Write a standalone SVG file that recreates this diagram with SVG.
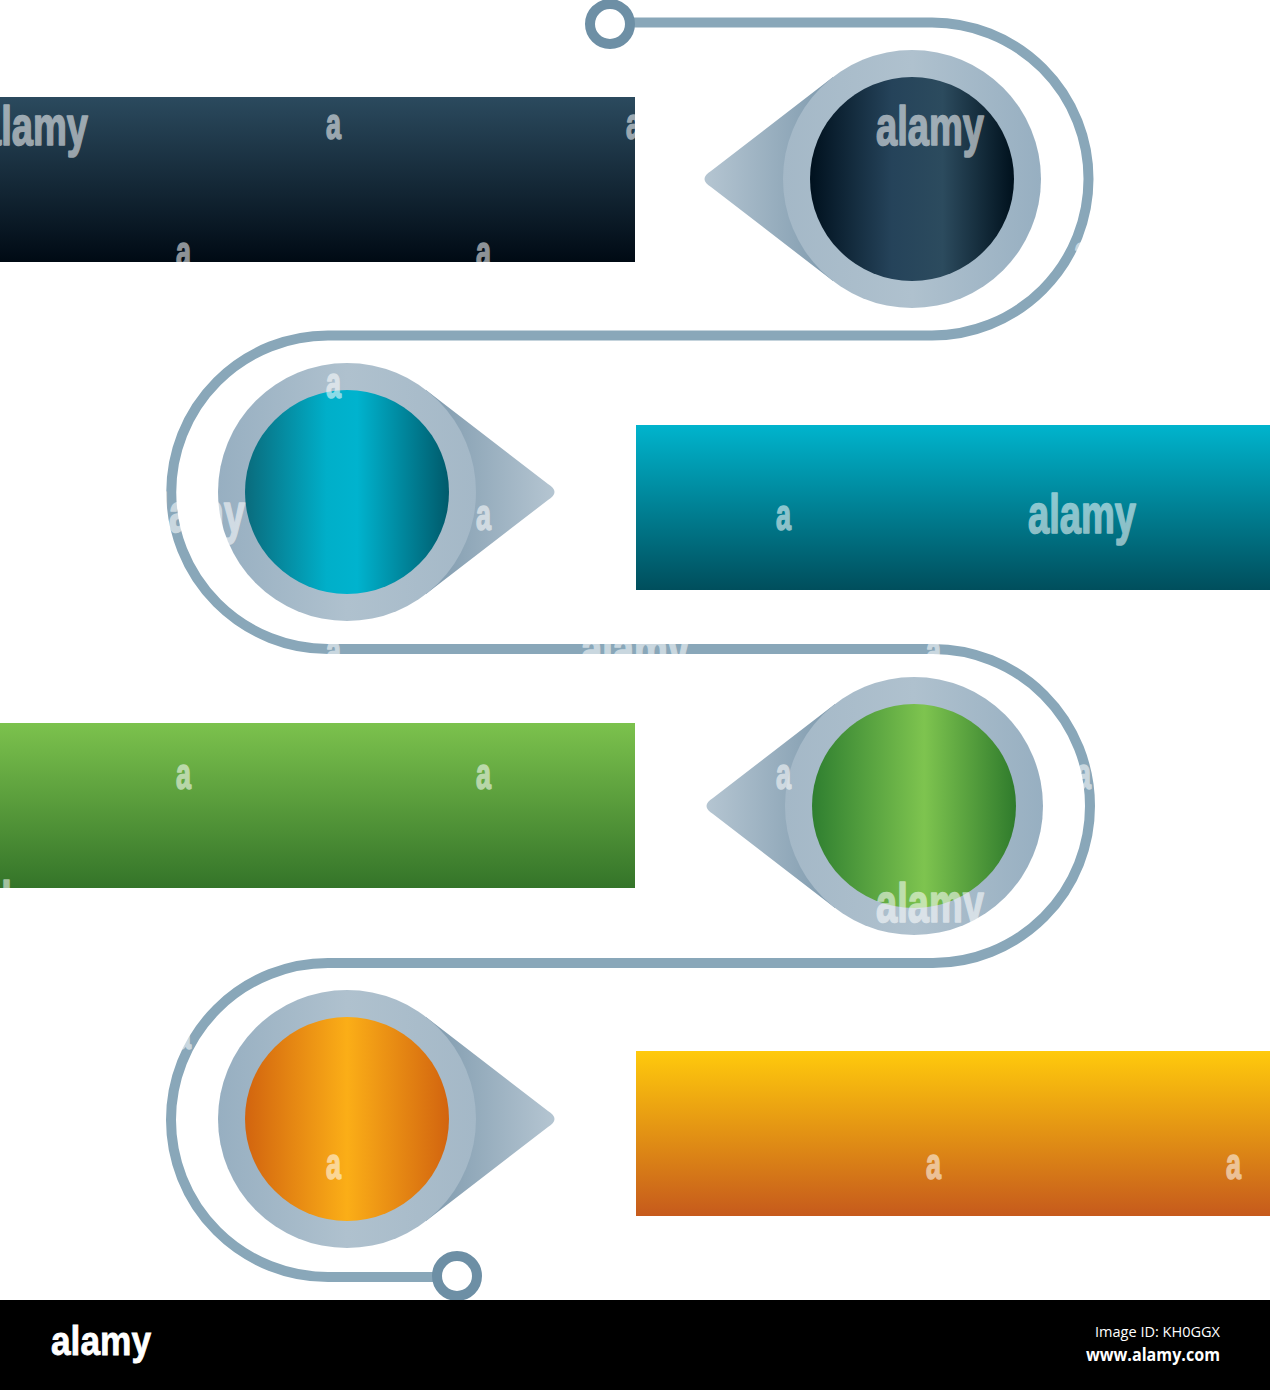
<svg xmlns="http://www.w3.org/2000/svg" width="1270" height="1390" viewBox="0 0 1270 1390">
<style>
.line{fill:none;stroke:#89a7b9;stroke-width:10}
.dot{fill:none;stroke:#6d8fa5;stroke-width:10}
.wm{fill:#fff;stroke:#fff;stroke-width:1.6;stroke-linejoin:round;font-family:"Liberation Sans Narrow","Liberation Sans",sans-serif;font-weight:bold}
.wa{font-size:44px}
.wl{font-size:56px}
.ft{fill:#fff;font-family:"Open Sans","DejaVu Sans",sans-serif}
</style>
<defs>
<linearGradient id="gDark" x1="0" y1="0" x2="0" y2="1"><stop offset="0" stop-color="#2b4a5e"/><stop offset="1" stop-color="#000a14"/></linearGradient>
<linearGradient id="gTeal" x1="0" y1="0" x2="0" y2="1"><stop offset="0" stop-color="#00b4cd"/><stop offset="1" stop-color="#004e5c"/></linearGradient>
<linearGradient id="gGreen" x1="0" y1="0" x2="0" y2="1"><stop offset="0" stop-color="#7cc24d"/><stop offset="1" stop-color="#347429"/></linearGradient>
<linearGradient id="gOrange" x1="0" y1="0" x2="0" y2="1"><stop offset="0" stop-color="#ffca0c"/><stop offset="1" stop-color="#c65a1c"/></linearGradient>
<linearGradient id="gRing" x1="0" y1="0" x2="1" y2="0"><stop offset="0" stop-color="#a4b8c7"/><stop offset="0.5" stop-color="#afc1ce"/><stop offset="1" stop-color="#97afc1"/></linearGradient>
<linearGradient id="gTri" gradientUnits="userSpaceOnUse" x1="-213" y1="0" x2="-70" y2="0"><stop offset="0" stop-color="#b7c7d3"/><stop offset="1" stop-color="#7b97ab"/></linearGradient>
<linearGradient id="cDark" x1="0" y1="0" x2="1" y2="0"><stop offset="0" stop-color="#00111e"/><stop offset="0.4" stop-color="#25435a"/><stop offset="0.65" stop-color="#2c4b5e"/><stop offset="1" stop-color="#00111d"/></linearGradient>
<linearGradient id="cTeal" x1="0" y1="0" x2="1" y2="0"><stop offset="0" stop-color="#005a6b"/><stop offset="0.45" stop-color="#00b3ce"/><stop offset="0.6" stop-color="#00afc9"/><stop offset="1" stop-color="#0a6b7c"/></linearGradient>
<linearGradient id="cGreen" x1="0" y1="0" x2="1" y2="0"><stop offset="0" stop-color="#2f7f30"/><stop offset="0.55" stop-color="#7ec44f"/><stop offset="1" stop-color="#2f7b2c"/></linearGradient>
<linearGradient id="cOrange" x1="0" y1="0" x2="1" y2="0"><stop offset="0" stop-color="#d2640f"/><stop offset="0.5" stop-color="#fbae17"/><stop offset="1" stop-color="#d2640f"/></linearGradient>
<g id="pin">
<path d="M-79,-102 L-201,-8 Q-214,0 -201,8 L-79,102 Z" fill="url(#gTri)"/>
<circle r="129" fill="url(#gRing)"/>
</g>
</defs>
<rect width="1270" height="1390" fill="#fff"/>
<g id="bar1"><rect x="0" y="97" width="635" height="165" fill="url(#gDark)"/></g>
<g id="bar2"><rect x="636" y="425" width="634" height="165" fill="url(#gTeal)"/></g>
<g id="bar3"><rect x="0" y="723" width="635" height="165" fill="url(#gGreen)"/></g>
<g id="bar4"><rect x="636" y="1051" width="634" height="165" fill="url(#gOrange)"/></g>
<g id="connectors">
<path class="line" d="M628,22.5 H932 A156.5 156.5 0 0 1 932,335.5 H328 A156.75 156.75 0 0 0 328,649 H933 A157 157 0 0 1 933,963 H328 A157 157 0 0 0 328,1277 H439"/>
<circle class="dot" cx="610" cy="24" r="20"/>
<circle class="dot" cx="457" cy="1276" r="20"/>
</g>
<g id="node1" transform="translate(912,179)"><use href="#pin"/><circle r="102" fill="url(#cDark)"/></g>
<g id="node2" transform="translate(347,492) scale(-1,1)"><use href="#pin"/><circle r="102" fill="url(#cTeal)"/></g>
<g id="node3" transform="translate(914,806)"><use href="#pin"/><circle r="102" fill="url(#cGreen)"/></g>
<g id="node4" transform="translate(347,1119) scale(-1,1)"><use href="#pin"/><circle r="102" fill="url(#cOrange)"/></g>
<g id="watermarks" class="wm" opacity="0.55">
<text class="wl" x="-20" y="145" textLength="108" lengthAdjust="spacingAndGlyphs">alamy</text>
<text class="wa" x="326" y="139" textLength="15" lengthAdjust="spacingAndGlyphs">a</text>
<text class="wa" x="626" y="139" textLength="15" lengthAdjust="spacingAndGlyphs">a</text>
<text class="wl" x="876" y="145" textLength="108" lengthAdjust="spacingAndGlyphs">alamy</text>
<text class="wa" x="176" y="267" textLength="15" lengthAdjust="spacingAndGlyphs">a</text>
<text class="wa" x="476" y="267" textLength="15" lengthAdjust="spacingAndGlyphs">a</text>
<text class="wa" x="1074" y="267" textLength="15" lengthAdjust="spacingAndGlyphs">a</text>
<text class="wa" x="326" y="398" textLength="15" lengthAdjust="spacingAndGlyphs">a</text>
<text class="wl" x="137" y="532" textLength="108" lengthAdjust="spacingAndGlyphs">alamy</text>
<text class="wa" x="476" y="530" textLength="15" lengthAdjust="spacingAndGlyphs">a</text>
<text class="wa" x="776" y="530" textLength="15" lengthAdjust="spacingAndGlyphs">a</text>
<text class="wl" x="1028" y="533" textLength="108" lengthAdjust="spacingAndGlyphs">alamy</text>
<text class="wa" x="326" y="666" textLength="15" lengthAdjust="spacingAndGlyphs">a</text>
<text class="wl" x="581" y="668" textLength="108" lengthAdjust="spacingAndGlyphs">alamy</text>
<text class="wa" x="926" y="666" textLength="15" lengthAdjust="spacingAndGlyphs">a</text>
<text class="wa" x="176" y="789" textLength="15" lengthAdjust="spacingAndGlyphs">a</text>
<text class="wa" x="476" y="789" textLength="15" lengthAdjust="spacingAndGlyphs">a</text>
<text class="wa" x="776" y="789" textLength="15" lengthAdjust="spacingAndGlyphs">a</text>
<text class="wa" x="1076" y="789" textLength="15" lengthAdjust="spacingAndGlyphs">a</text>
<text class="wl" x="-20" y="920" textLength="108" lengthAdjust="spacingAndGlyphs">alamy</text>
<text class="wl" x="876" y="922" textLength="108" lengthAdjust="spacingAndGlyphs">alamy</text>
<text class="wa" x="176" y="1049" textLength="15" lengthAdjust="spacingAndGlyphs">a</text>
<text class="wa" x="326" y="1179" textLength="15" lengthAdjust="spacingAndGlyphs">a</text>
<text class="wa" x="926" y="1179" textLength="15" lengthAdjust="spacingAndGlyphs">a</text>
<text class="wa" x="1226" y="1179" textLength="15" lengthAdjust="spacingAndGlyphs">a</text>
</g>
<g id="footer">
<rect x="0" y="1300" width="1270" height="90" fill="#000"/>
<text x="51" y="1355" font-family="Liberation Sans, sans-serif" font-weight="bold" font-size="40" fill="#fff" stroke="#fff" stroke-width="0.8" textLength="100" lengthAdjust="spacingAndGlyphs">alamy</text>
<text class="ft" x="1095" y="1337" font-size="15" textLength="125" lengthAdjust="spacingAndGlyphs">Image ID: KH0GGX</text>
<text class="ft" x="1086" y="1361" font-size="17" font-weight="bold" textLength="134" lengthAdjust="spacingAndGlyphs">www.alamy.com</text>
</g>
</svg>
